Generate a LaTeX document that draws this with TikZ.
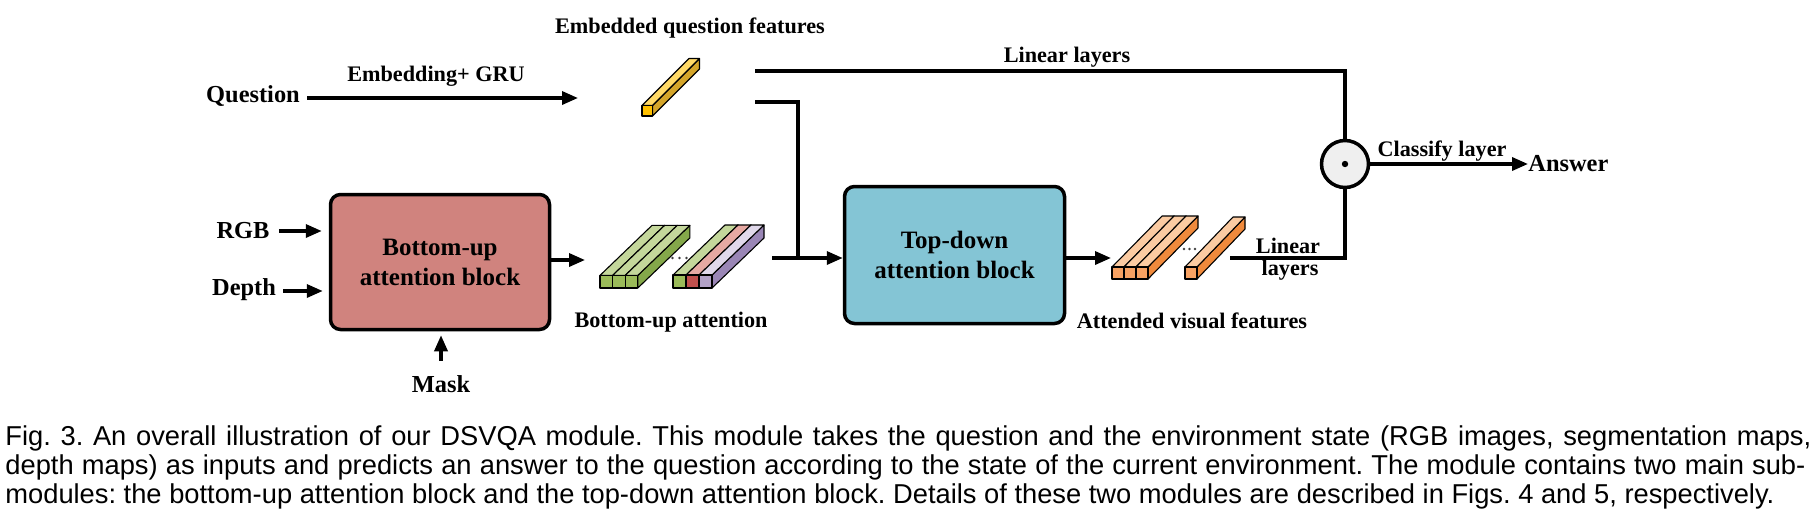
\documentclass[tikz,border=0pt]{standalone}
\usepackage{fontspec}
\usepackage{graphicx}
\setmainfont{Liberation Serif}
\newfontfamily\capfont{Liberation Sans}
\usetikzlibrary{arrows.meta,calc}
\definecolor{bucol}{RGB}{208,131,126}
\definecolor{tdcol}{RGB}{132,197,213}
\definecolor{gfront}{HTML}{9BBB59}
\definecolor{gtop}{HTML}{C4D79B}
\definecolor{gside}{HTML}{84A84A}
\definecolor{rfront}{HTML}{C0504D}
\definecolor{rtop}{HTML}{E6A9A3}
\definecolor{rside}{HTML}{D98880}
\definecolor{pfront}{HTML}{B3A2C7}
\definecolor{ptop}{HTML}{E0D8EA}
\definecolor{pside}{HTML}{9A86B6}
\definecolor{ofront}{HTML}{F7A263}
\definecolor{otop}{HTML}{FBCBA2}
\definecolor{oside}{HTML}{F08A3C}
\definecolor{yfront}{HTML}{FFC000}
\definecolor{ytop}{HTML}{FFD966}
\definecolor{yside}{HTML}{D4A52A}
\definecolor{mulcol}{HTML}{EFEFEF}
\newlength\capw
\newcommand\capsel{\capfont\fontsize{13}{15}\selectfont\frenchspacing}
\newcommand\capone{Fig. 3. An overall illustration of our DSVQA module. This module takes the question and the environment state (RGB images, segmentation maps,}
\newcommand\captwo{depth maps) as inputs and predicts an answer to the question according to the state of the current environment. The module contains two main sub-}
\newcommand\capthree{modules: the bottom-up attention block and the top-down attention block. Details of these two modules are described in Figs. 4 and 5, respectively.}
\newsavebox\capboxthree
\AtBeginDocument{\savebox\capboxthree{\capsel\capthree}\global\capw=\wd\capboxthree}
% cuboid: x, y(bottom of front face), size, dx, dy(up), front, top, side
\newcommand\cubo[8]{%
  \filldraw[fill=#8,cubl] (#1+#3,#2) -- (#1+#3,#2-#3) -- (#1+#3+#4,#2-#3-#5) -- (#1+#3+#4,#2-#5) -- cycle;
  \filldraw[fill=#7,cubl] (#1,#2-#3) -- (#1+#3,#2-#3) -- (#1+#3+#4,#2-#3-#5) -- (#1+#4,#2-#3-#5) -- cycle;
  \filldraw[fill=#6,cubl] (#1,#2) rectangle (#1+#3,#2-#3);}
\tikzset{
  cubl/.style={draw=black,line width=0.55pt,line join=round},
  lab/.style={font=\bfseries\fontsize{12.2}{14}\selectfont,inner sep=0pt},
  slab/.style={font=\bfseries\fontsize{11.1}{13}\selectfont,inner sep=0pt},
  blk/.style={draw=black,line width=1.75pt,rounded corners=5pt,align=center,
    font=\bfseries\fontsize{12.5}{15}\selectfont,inner sep=0pt},
  ln/.style={line width=1.7pt,line join=miter},
  arr/.style={ln,-{Triangle[length=8pt,width=6.5pt]}},
  captxt/.style={inner sep=0pt,anchor=base west},
  dotc/.style={fill=black!75}
}
\begin{document}
\begin{tikzpicture}[x=0.5pt,y=-0.5pt]
\useasboundingbox (0,0) rectangle (1818,525);
% labels
\node[lab,anchor=base] (q) at (253,102) {Question};
\node[slab,anchor=base] (embgru) at (436,81) {Embedding+ GRU};
\node[slab,anchor=base] (embfeat) at (690,33) {Embedded question features};
\node[slab,anchor=base] (lintop) at (1067,62) {Linear layers};
\node[slab,anchor=base] (classify) at (1442,156) {Classify layer};
\node[lab,anchor=base west] (answer) at (1528,171) {Answer};
\node[lab,anchor=base] (rgb) at (243,238) {RGB};
\node[lab,anchor=base] (depth) at (244,295) {Depth};
\node[lab,anchor=base] (mask) at (441,392) {Mask};
\node[slab,anchor=base] (buattn) at (671,327) {Bottom-up attention};
\node[slab,anchor=base] (attended) at (1192,328) {Attended visual features};
\node[slab,anchor=base] (lin2a) at (1288,253) {Linear};
\node[slab,anchor=base] (lin2b) at (1290,275) {layers};
% blocks
\node[blk,fill=bucol,minimum width=109.5pt,minimum height=67.5pt] (bu) at (440,262) {Bottom-up\\attention block};
\node[blk,fill=tdcol,minimum width=110pt,minimum height=68.5pt] (td) at (954.5,255) {Top-down\\attention block};
% multiply circle
\node[circle,draw=black,line width=1.75pt,fill=mulcol,minimum size=23.5pt,inner sep=0pt] (mul) at (1345,164) {};
\fill (mul.center) circle (1.6pt);
% cuboids
\cubo{642}{116}{10.5}{47}{47}{yfront}{ytop}{yside}
\cubo{600}{288}{12.6}{52}{50}{gfront}{gtop}{gside}
\cubo{612.6}{288}{12.6}{52}{50}{gfront}{gtop}{gside}
\cubo{625.2}{288}{12.6}{52}{50}{gfront}{gtop}{gside}
\cubo{673}{288}{13}{52}{50}{gfront}{gtop}{gside}
\cubo{686}{288}{13}{52}{50}{rfront}{rtop}{rside}
\cubo{699}{288}{13}{52}{50}{pfront}{ptop}{pside}
\cubo{1112}{279}{12}{50}{51}{ofront}{otop}{oside}
\cubo{1124}{279}{12}{50}{51}{ofront}{otop}{oside}
\cubo{1136}{279}{12}{50}{51}{ofront}{otop}{oside}
\cubo{1185}{279}{12}{48}{50}{ofront}{otop}{oside}
\foreach \d in {672.5,679.5,686.5} \fill[dotc] (\d,258) circle (0.7pt);
\foreach \d in {1184,1189.5,1195} \fill[dotc] (\d,249) circle (0.7pt);
% connectors
\coordinate (qe) at (578,98);
\draw[arr,shorten <=3.5pt] (q.east |- qe) -- (qe);
\draw[arr,shorten <=4.5pt,shorten >=3.5pt] (rgb.east |- 0,231) -- (bu.west |- 0,231);
\draw[arr,shorten <=3.5pt,shorten >=3pt] (depth.east |- 0,291) -- (bu.west |- 0,291);
\draw[arr,shorten <=7pt,shorten >=2pt] (mask.north) -- (mask.north |- bu.south);
\coordinate (g1) at (585,260);
\draw[arr] (bu.east |- g1) -- (g1);
\coordinate (t1) at (755,71);
\draw[ln] (t1) -| (mul.north);
\coordinate (t2) at (755,102);
\coordinate (j) at (798,258);
\draw[ln] (t2) -| (j);
\coordinate (f1) at (772,258);
\draw[arr] (f1) -- (td.west |- f1);
\coordinate (o1) at (1111,258);
\draw[arr] (td.east |- o1) -- (o1);
\coordinate (o2) at (1230,258);
\draw[ln] (o2) -| (mul.south);
\draw[arr] (mul.east) -- (answer.west |- mul.east);
% caption
\node[captxt] (c1) at (5,445.5) {\resizebox{903pt}{!}{\makebox[1.02092\capw][s]{\capsel\capone}}};
\node[captxt] (c2) at (5,474) {\resizebox{900pt}{!}{\makebox[1.01752\capw][s]{\capsel\captwo}}};
\node[captxt] (c3) at (5,503) {\resizebox{884.5pt}{!}{\capsel\capthree}};
\end{tikzpicture}
\end{document}
